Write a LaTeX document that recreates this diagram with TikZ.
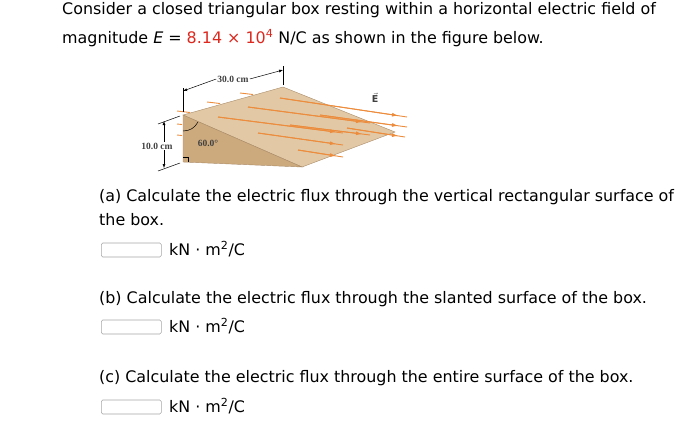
\documentclass[tikz,border=0pt]{standalone}
\usepackage{fontspec}
\setmainfont{DejaVu Sans}
\newfontfamily\serf{Liberation Serif}
\usetikzlibrary{arrows.meta}
\definecolor{topc}{RGB}{226,200,165}
\definecolor{sidec}{RGB}{205,170,125}
\definecolor{edgec}{RGB}{170,140,105}
\definecolor{arr}{RGB}{236,140,60}
\definecolor{red1}{RGB}{220,40,30}
\begin{document}
\begin{tikzpicture}[x=1pt,y=-1pt,
  txt/.style={anchor=west,inner sep=0pt,font=\fontsize{15.9}{19}\selectfont},
  fld/.style={arr,line width=0.9pt},
  fa/.style={fld,-{Latex[length=6pt,width=4pt]}},
  dim/.style={line width=0.5pt},
  box/.style={draw=gray!70,line width=0.6pt,rounded corners=1.5pt,fill=white},
  lab/.style={font=\serf\bfseries\fontsize{9.5}{10}\selectfont,text=black!75,inner sep=1pt}]
\useasboundingbox (0,0) rectangle (700,424);
\node[txt] (l1) at (62,10) {Consider a closed triangular box resting within a horizontal electric field of};
\node[txt] (l2) at (62,38) {magnitude \textit{E} = \textcolor{red1}{8.14 × 10\textsuperscript{4}} N/C as shown in the figure below.};
% box
\coordinate (A) at (183,115); \coordinate (B) at (183,162); \coordinate (C) at (302,167);
\coordinate (D) at (283,87); \coordinate (F) at (395,132);
\fill[topc,draw=edgec,line width=0.4pt] (A)--(D)--(F)--(C)--cycle;
\fill[sidec,draw=edgec,line width=0.4pt] (A)--(B)--(C)--cycle;
\draw[dim] (183,157) -- ++(5,0) -- ++(0,5);
\draw[dim] (183,131) to[bend right=30] (198,122);
\node[lab] (ang) at (208,143) {60.0°};
% field
\draw[fld] (280,98)--(407,117); \draw[fa] (280,98)--(398,115.6);
\draw[fld] (248,107)--(370,123); \draw[fa] (248,107)--(362,122);
\draw[fld] (320,115)--(407,127); \draw[fa] (320,115)--(398,125.8);
\draw[fld] (218,117)--(343,133); \draw[fa] (218,117)--(336,132);
\draw[fld] (290,125)--(370,135); \draw[fa] (290,125)--(362,134);
\draw[fld] (347,128)--(405,137); \draw[fa] (347,128)--(398,136);
\draw[fld] (258,133)--(343,145); \draw[fa] (258,133)--(336,144);
\draw[fld] (298,150)--(343,157); \draw[fa] (298,150)--(336,156);
\draw[fld] (177,111)--(190,112.5); \draw[fld] (207,102)--(220,103.5);
\draw[fld] (240,93)--(253,94.5); \draw[fld] (177,124)--(182,124.5); \draw[fld] (177,135)--(182,135.5);
\node[lab] (E) at (375,98) {$\vec{\mathbf{E}}$};
% 30 cm dimension
\draw[dim] (183,88)--(183,112); \draw[dim] (283,66)--(283,85);
\node[lab,fill=white] (w) at (233,79) {30.0 cm};
\draw[dim,-{Latex[length=4pt,width=3pt]}] (w.west)--(183,91);
\draw[dim,-{Latex[length=4pt,width=3pt]}] (w.east)--(283,70);
% 10 cm dimension
\draw[dim] (158,124)--(180,116); \draw[dim] (158,171)--(180,163);
\node[lab,fill=white] (h) at (157,146) {10.0 cm};
\draw[dim,-{Latex[length=4pt,width=3pt]}] (h.north -| 164,0)--(164,121);
\draw[dim,-{Latex[length=4pt,width=3pt]}] (h.south -| 164,0)--(164,168);
% questions
\node[txt] (qa) at (99,197) {(a) Calculate the electric flux through the vertical rectangular surface of};
\node[txt] (qa2) at (99,220) {the box.};
\node[box,minimum width=60pt,minimum height=14pt,anchor=west] (ba) at (101,250) {};
\node[txt] (ua) at (169,249) {kN · m\textsuperscript{2}/C};
\node[txt] (qb) at (99,299) {(b) Calculate the electric flux through the slanted surface of the box.};
\node[box,minimum width=60pt,minimum height=14pt,anchor=west] (bb) at (101,327) {};
\node[txt] (ub) at (169,326) {kN · m\textsuperscript{2}/C};
\node[txt] (qc) at (99,378) {(c) Calculate the electric flux through the entire surface of the box.};
\node[box,minimum width=60pt,minimum height=14pt,anchor=west] (bc) at (101,407) {};
\node[txt] (uc) at (169,406) {kN · m\textsuperscript{2}/C};
\end{tikzpicture}
\end{document}
